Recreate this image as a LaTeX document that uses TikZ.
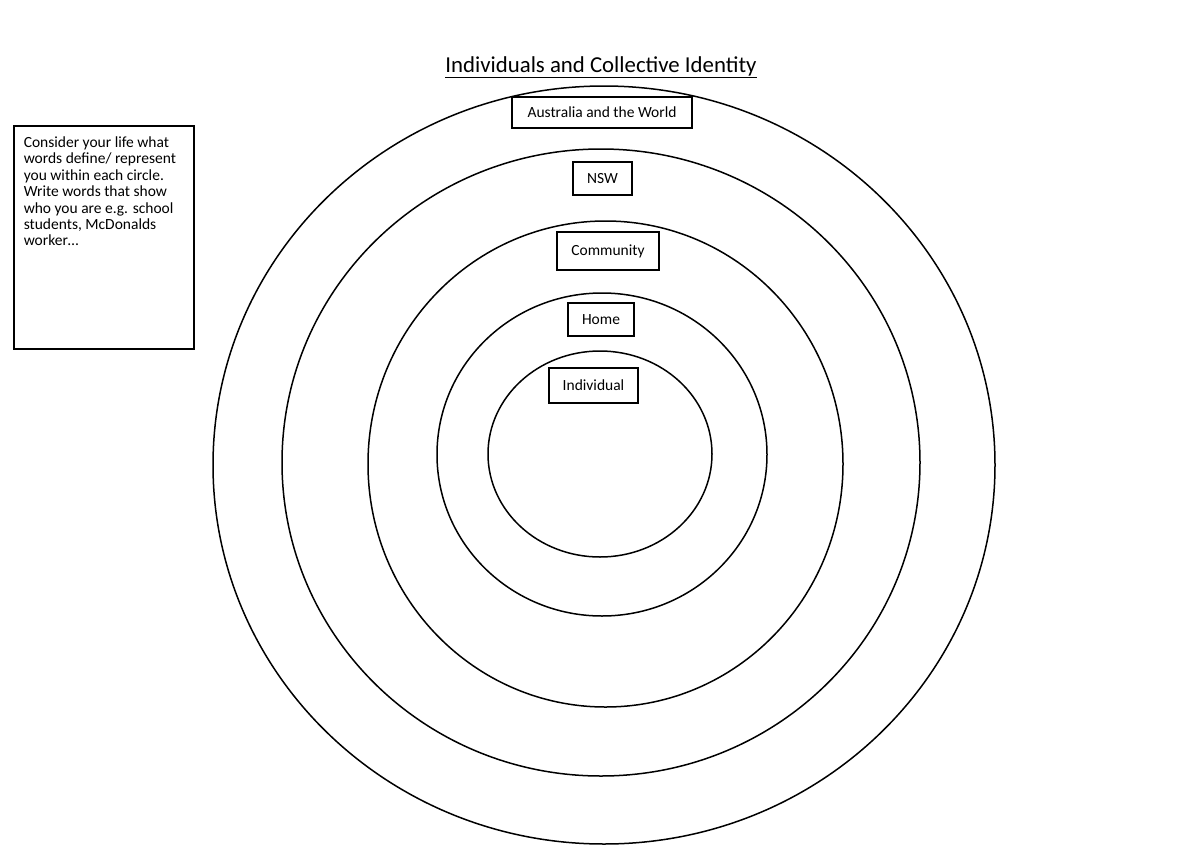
\documentclass[tikz,border=0pt]{standalone}
\usepackage{fontspec}
\setmainfont{Carlito}
\usetikzlibrary{shapes.geometric}

\begin{document}
\begin{tikzpicture}[x=1pt,y=-1pt,
  ring/.style={draw, ellipse, line width=1.5pt, inner sep=0pt},
  tag/.style={draw, fill=white, line width=1.5pt, inner sep=0pt, font=\fontsize{15.5}{18}\selectfont}]
\useasboundingbox (0,0) rectangle (1200,849);
\node (title) at (601,67) {\fontsize{22.8}{27}\selectfont\underline{Individuals and Collective Identity}};
\node[ring, minimum width=782, minimum height=758] (world) at (604,465) {};
\node[ring, minimum width=638, minimum height=627] (nsw) at (601,462.5) {};
\node[ring, minimum width=475, minimum height=486] (community) at (605.5,464) {};
\node[ring, minimum width=330, minimum height=323] (home) at (602,454.5) {};
\node[ring, minimum width=224, minimum height=206] (individual) at (600,454) {};
\node[tag, minimum width=180, minimum height=31] (worldtag) at (602,112.5) {Australia and the World};
\node[tag, minimum width=59, minimum height=33] (nswtag) at (602.5,178.5) {NSW};
\node[tag, minimum width=102, minimum height=38] (communitytag) at (608,251) {Community};
\node[tag, minimum width=66, minimum height=33] (hometag) at (601,319.5) {Home};
\node[tag, minimum width=89, minimum height=35] (individualtag) at (593.5,385.5) {Individual};
\node[draw, line width=1.5pt, anchor=north west, inner xsep=10pt, inner ysep=11pt,
  font=\fontsize{15.5}{16.4}\selectfont] (note) at (13,125)
  {\parbox[c][201pt][t]{160pt}{\raggedright Consider your life what\\ words define/ represent\\ you within each circle.\\ Write words that show\\ who you are e.g. school\\ students, McDonalds\\ worker…}};
\end{tikzpicture}
\end{document}
